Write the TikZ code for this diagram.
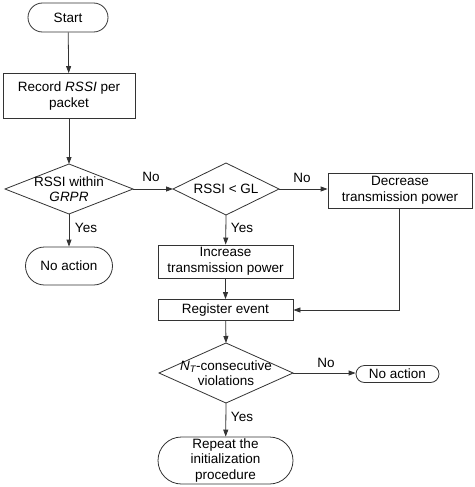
\documentclass[tikz,border=0pt]{standalone}
\usepackage{fontspec}
\setmainfont{Liberation Sans}
\usetikzlibrary{arrows.meta,shapes.misc}
\begin{document}
\begin{tikzpicture}[x=1pt,y=-1pt,
  every node/.style={font=\fontsize{13.5}{15.5}\selectfont, inner sep=0pt},
  ln/.style={draw=black!80, line width=0.8pt},
  arr/.style={ln, -{Triangle[length=7pt,width=5pt]}},
  box/.style={ln, rectangle, align=center},
  term/.style={ln, rounded rectangle, align=center},
  lbl/.style={font=\fontsize{13.5}{15.5}\selectfont}
]
\useasboundingbox (0,0) rectangle (474,487);
% nodes
\node[term, minimum width=80pt, minimum height=29pt] (start) at (68,17.5) {Start};
\node[box, minimum width=132pt, minimum height=45pt] (rec) at (69,96) {Record \textit{RSSI} per\\packet};
% diamond 1
\coordinate (d1t) at (69,164); \coordinate (d1b) at (69,214);
\coordinate (d1l) at (5,189); \coordinate (d1r) at (133,189);
\draw[ln] (d1t) -- (d1r) -- (d1b) -- (d1l) -- cycle;
\node[align=center] (d1) at (69,189) {RSSI within\\\textit{GRPR}};
\node[term, minimum width=87pt, minimum height=38pt] (na1) at (69,266) {No action};
% diamond 2
\coordinate (d2t) at (226,163); \coordinate (d2b) at (226,215);
\coordinate (d2l) at (173,189); \coordinate (d2r) at (279,189);
\draw[ln] (d2t) -- (d2r) -- (d2b) -- (d2l) -- cycle;
\node (d2) at (226,189) {RSSI < GL};
\node[box, minimum width=144pt, minimum height=35pt] (dec) at (400,190.5) {Decrease\\transmission power};
\node[box, minimum width=135pt, minimum height=33pt] (inc) at (225.5,261.5) {Increase\\transmission power};
\node[box, minimum width=135pt, minimum height=21pt] (reg) at (225.5,310) {Register event};
% diamond 3
\coordinate (d3t) at (226,343); \coordinate (d3b) at (226,403);
\coordinate (d3l) at (159,373); \coordinate (d3r) at (293,373);
\draw[ln] (d3t) -- (d3r) -- (d3b) -- (d3l) -- cycle;
\node[align=center] (d3) at (226,373) {\textit{N\textsubscript{T}}-consecutive\\violations};
\node[term, minimum width=83pt, minimum height=17pt] (na2) at (397.5,374) {No action};
\node[term, minimum width=135pt, minimum height=47pt] (rep) at (225.5,460.5) {Repeat the\\initialization\\procedure};
% connectors
\draw[arr] (start) -- (rec);
\draw[arr] (rec) -- (d1t);
\draw[arr] (d1r) -- (d2l);
\draw[arr] (d1b) -- (na1);
\draw[arr] (d2r) -- (dec.west |- d2r);
\draw[arr] (d2b) -- (inc);
\draw[arr] (inc) -- (reg);
\draw[arr] (dec.south -| 399,0) -- (399,310) -- (reg.east);
\draw[arr] (reg) -- (d3t);
\draw[arr] (d3r) -- (na2.west |- d3r);
\draw[arr] (d3b) -- (rep);
% labels
\node[lbl] (l1) at (151,177) {No};
\node[lbl] (l2) at (86,228) {Yes};
\node[lbl] (l3) at (302,178) {No};
\node[lbl] (l4) at (242,228) {Yes};
\node[lbl] (l5) at (326,363) {No};
\node[lbl] (l6) at (242,417) {Yes};
\end{tikzpicture}
\end{document}
